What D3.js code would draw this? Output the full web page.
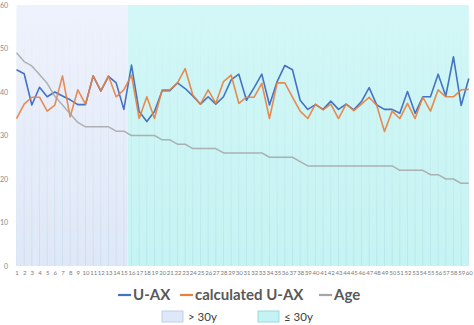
<!DOCTYPE html>
<html>
<head>
<meta charset="utf-8">
<script src="https://cdn.jsdelivr.net/npm/d3@7"></script>
<style>
  html, body { margin: 0; padding: 0; background: #ffffff; }
  svg { display: block; }
</style>
</head>
<body>
<svg id="chart" width="474" height="325"></svg>
<script>
// ---------- data ----------
const categories = d3.range(1, 61).map(String);

const uax = [45.1, 44.2, 37.0, 41.1, 38.9, 40.0, 39.1, 38.2, 37.1, 37.1,
             43.7, 40.2, 43.6, 42.1, 36.0, 46.2, 35.5, 33.2, 35.5, 40.3,
             40.3, 42.1, 40.8, 39.1, 37.2, 38.9, 37.2, 38.9, 42.8, 44.1,
             38.1, 41.0, 44.1, 37.0, 42.4, 46.1, 45.1, 38.1, 36.0, 37.1,
             36.0, 37.9, 36.0, 37.2, 35.9, 37.8, 41.0, 37.0, 36.0, 36.0,
             35.1, 40.1, 35.1, 38.9, 38.9, 44.1, 39.1, 48.1, 36.9, 43.1];

const calcUax = [33.9, 37.2, 38.8, 38.8, 35.6, 37.0, 43.7, 34.3, 40.5, 37.2,
                 43.7, 40.3, 43.7, 38.9, 40.5, 43.9, 33.9, 38.9, 33.9, 40.5,
                 40.5, 42.1, 45.4, 39.3, 37.2, 40.5, 37.4, 42.4, 43.9, 37.4,
                 38.8, 38.8, 42.0, 33.9, 42.1, 42.1, 38.8, 35.6, 33.9, 37.2,
                 35.9, 37.2, 33.9, 37.2, 35.7, 37.2, 38.8, 36.9, 30.9, 35.6,
                 33.9, 37.4, 33.9, 38.8, 35.6, 40.5, 38.9, 38.9, 40.5, 40.6];

const age = [49, 47, 46, 44, 42, 39, 37, 35, 33, 32,
             32, 32, 32, 31, 31, 30, 30, 30, 30, 29,
             29, 28, 28, 27, 27, 27, 27, 26, 26, 26,
             26, 26, 26, 25, 25, 25, 25, 24, 23, 23,
             23, 23, 23, 23, 23, 23, 23, 23, 23, 23,
             22, 22, 22, 22, 21, 21, 20, 20, 19, 19];

const yTicks = [0, 10, 20, 30, 40, 50, 60];
const ageLimit = 30;
const seriesNames = ["U-AX", "calculated U-AX", "Age"];
const bandNames = ["> 30y", "\u2264 30y"];

// ---------- scales ----------
const svg = d3.select("#chart");
const x = d3.scalePoint().domain(categories).range([16.5, 468.8]);
const y = d3.scaleLinear().domain([0, 60]).range([266, 5]);

const defs = svg.append("defs");
function vgrad(id, top, bottom) {
  const g = defs.append("linearGradient").attr("id", id)
    .attr("x1", 0).attr("y1", 0).attr("x2", 0).attr("y2", 1);
  g.append("stop").attr("offset", "0%").attr("stop-color", top);
  g.append("stop").attr("offset", "100%").attr("stop-color", bottom);
}
vgrad("gOld", "#eef2fc", "#dfe8f7");
vgrad("gYoung", "#d2f7f6", "#c6f3f3");
const lg = defs.append("linearGradient").attr("id", "gLines")
  .attr("gradientUnits", "userSpaceOnUse")
  .attr("x1", 0).attr("y1", y(60)).attr("x2", 0).attr("y2", y(0));
lg.append("stop").attr("offset", "0%").attr("stop-color", "#9cc6da").attr("stop-opacity", 0);
lg.append("stop").attr("offset", "35%").attr("stop-color", "#9cc6da").attr("stop-opacity", 0.08);
lg.append("stop").attr("offset", "100%").attr("stop-color", "#9cc6da").attr("stop-opacity", 0.28);

// ---------- background bands (area) ----------
const oldBand = age.map(a => a > ageLimit ? 60 : 0);
const youngBand = age.map(a => a > ageLimit ? 0 : 60);

const bandArea = d3.area()
  .curve(d3.curveStep)
  .x((d, i) => x(categories[i]))
  .y0(y(0))
  .y1(d => y(d));

svg.append("path").datum(oldBand).attr("d", bandArea).attr("fill", "url(#gOld)");
svg.append("path").datum(youngBand).attr("d", bandArea).attr("fill", "url(#gYoung)");

// vertical stripes
svg.append("g").selectAll("line").data(categories).join("line")
  .attr("x1", d => x(d)).attr("x2", d => x(d))
  .attr("y1", y(60)).attr("y2", y(0))
  .attr("stroke", "url(#gLines)").attr("stroke-width", 1);

// ---------- axes ----------
const yAxis = svg.append("g").attr("transform", `translate(${x(categories[0])},0)`)
  .call(d3.axisLeft(y).tickValues(yTicks).tickSize(0).tickPadding(8.5));
yAxis.select(".domain").remove();
yAxis.selectAll("text").attr("font-family", "Lato, sans-serif")
  .attr("font-size", 7).attr("fill", "#8a8a8a");

const xAxis = svg.append("g").attr("transform", `translate(0,${y(0)})`)
  .call(d3.axisBottom(x).tickSize(0).tickPadding(5));
xAxis.select(".domain").remove();
xAxis.selectAll("text").attr("font-family", "Lato, sans-serif")
  .attr("font-size", 6).attr("fill", "#7a7a7a");

// ---------- lines ----------
const line = d3.line().x((d, i) => x(categories[i])).y(d => y(d));
const colors = ["#4472C4", "#E8803E", "#A5A5A5"];

svg.append("path").datum(uax).attr("d", line).attr("fill", "none")
  .attr("stroke", colors[0]).attr("stroke-width", 1.6).attr("stroke-linejoin", "round");
svg.append("path").datum(calcUax).attr("d", line).attr("fill", "none")
  .attr("stroke", colors[1]).attr("stroke-width", 1.6).attr("stroke-linejoin", "round")
  .attr("stroke-opacity", 0.9);
svg.append("path").datum(age).attr("d", line).attr("fill", "none")
  .attr("stroke", colors[2]).attr("stroke-width", 1.5).attr("stroke-linejoin", "round")
  .attr("stroke-opacity", 0.85);

// ---------- legend ----------
const legendItems = [
  { name: seriesNames[0], x0: 118, color: colors[0] },
  { name: seriesNames[1], x0: 180, color: colors[1] },
  { name: seriesNames[2], x0: 319, color: colors[2] }
];
const leg = svg.append("g");
legendItems.forEach(it => {
  leg.append("line").attr("x1", it.x0).attr("x2", it.x0 + 13)
    .attr("y1", 295).attr("y2", 295)
    .attr("stroke", it.color).attr("stroke-width", 2.2);
  leg.append("text").attr("x", it.x0 + 15).attr("y", 300)
    .attr("font-family", "Lato, sans-serif").attr("font-weight", "bold")
    .attr("font-size", 15).attr("fill", "#595959").text(it.name);
});

const bandLegend = [
  { name: bandNames[0], x0: 162, fill: "#dfe8f8", stroke: "#b3c6e6" },
  { name: bandNames[1], x0: 258, fill: "#c3f3f3", stroke: "#86d3dc" }
];
bandLegend.forEach(it => {
  leg.append("rect").attr("x", it.x0).attr("y", 311).attr("width", 21).attr("height", 11)
    .attr("fill", it.fill).attr("stroke", it.stroke).attr("stroke-width", 0.8);
  leg.append("text").attr("x", it.x0 + 26).attr("y", 321)
    .attr("font-family", "Lato, sans-serif")
    .attr("font-size", 11.5).attr("fill", "#404040").text(it.name);
});
</script>
</body>
</html>
